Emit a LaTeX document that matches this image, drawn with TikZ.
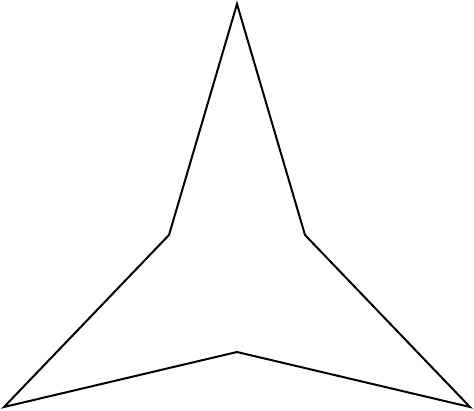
\documentclass[tikz,border=0pt]{standalone}
\begin{document}
\begin{tikzpicture}[x=1pt,y=-1pt,star/.style={draw=black,line width=2pt,line join=miter}]
\useasboundingbox (0,0) rectangle (474,410);
\coordinate (t) at (237,4);
\coordinate (ir) at (305,235);
\coordinate (br) at (470,407);
\coordinate (ib) at (237,352);
\coordinate (bl) at (4,407);
\coordinate (il) at (169,235);
\draw[star] (t) -- (ir) -- (br) -- (ib) -- (bl) -- (il) -- cycle;
\end{tikzpicture}
\end{document}
